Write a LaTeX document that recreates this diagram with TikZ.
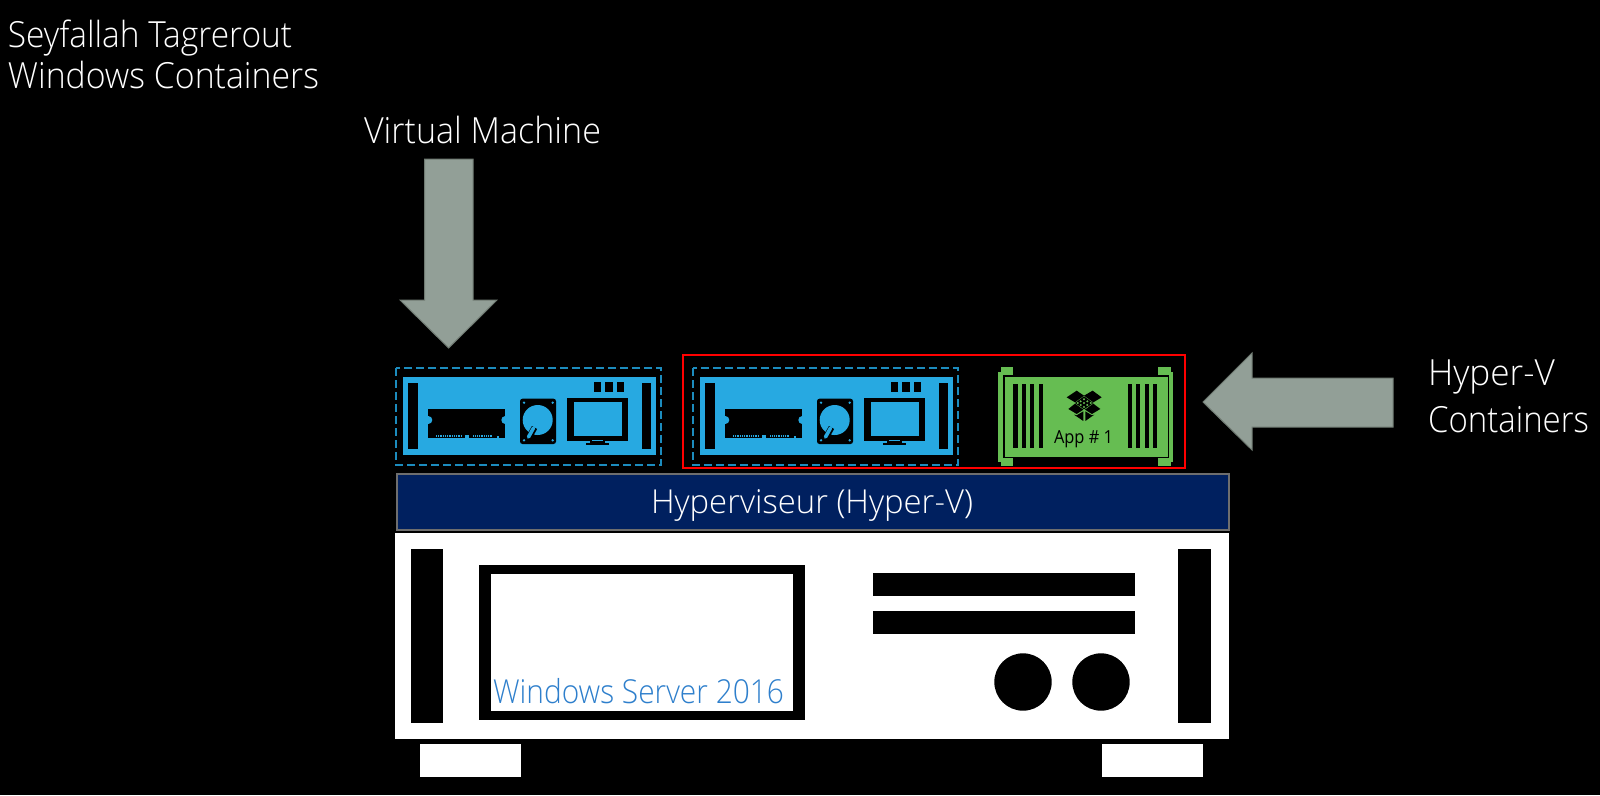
\documentclass[tikz,border=0pt]{standalone}
\usepackage{fontspec}
\usepackage{graphicx}
\setmainfont{Open Sans Light}
\newfontfamily\appfont{Open Sans}
\definecolor{vmblue}{HTML}{27A9E1}
\definecolor{dashblue}{HTML}{1C8CBE}
\definecolor{appgreen}{HTML}{66BD52}
\definecolor{arrowgray}{HTML}{929F97}
\definecolor{arrowedge}{HTML}{6F7A72}
\definecolor{hypernavy}{HTML}{00205F}
\definecolor{hyperedge}{HTML}{6E6E6E}
\definecolor{srvtext}{HTML}{2E7FCC}
\newcommand{\fitw}[2]{\resizebox{#1pt}{\height}{#2}}
\tikzset{
  x=1pt,y=-1pt,
  label text/.style={anchor=base west,inner sep=0pt,outer sep=0pt,text=white,font=\fontsize{36}{36}\selectfont},
  inner text/.style={anchor=base west,inner sep=0pt,outer sep=0pt,text=white,font=\fontsize{33}{33}\selectfont},
  ink/.style={fill=black,draw=none},
  white part/.style={fill=white,draw=none},
  blue part/.style={fill=vmblue,draw=none},
  green part/.style={fill=appgreen,draw=none},
  block arrow/.style={fill=arrowgray,draw=arrowedge,line width=1pt,line join=miter},
  vm dashed/.style={draw=dashblue,line width=1.4pt,dash pattern=on 8pt off 4pt},
  red frame/.style={draw=red,line width=2pt}
}
\begin{document}
\begin{tikzpicture}
\fill[black] (0,0) rectangle (1600,795);
\useasboundingbox (0,0) rectangle (1600,795);

% titles
\node[label text] (title1) at (8,47) {\fitw{284}{Seyfallah Tagrerout}};
\node[label text] (title2) at (8,88) {\fitw{311}{Windows Containers}};
\node[label text] (vmlabel) at (364,143) {\fitw{237}{Virtual Machine}};
\node[label text] (hv1) at (1428,385) {\fitw{127}{Hyper-V}};
\node[label text] (hv2) at (1428,432) {\fitw{161}{Containers}};

% block arrows
\path[block arrow] (424.5,159) -- (473,159) -- (473,300) -- (497,300) -- (448.6,348) -- (400,300) -- (424.5,300) -- cycle;
\path[block arrow] (1393,378) -- (1252,378) -- (1252,353) -- (1203,402) -- (1252,450) -- (1252,427) -- (1393,427) -- cycle;

% red frame
\draw[red frame] (683,355) rectangle (1185,468);

% virtual machine boxes
\foreach \ox in {0,297}{
\begin{scope}[shift={(\ox,0)}]
  \draw[vm dashed] (396,368) rectangle (661,465);
  \fill[blue part] (403,377) rectangle (656,455);
  \fill[ink] (408,383) rectangle (418,449);
  \fill[ink] (642,383) rectangle (651,449);
  \fill[ink] (593.7,381.7) rectangle (601.3,391.7);
  \fill[ink] (605.3,381.7) rectangle (613,391.7);
  \fill[ink] (616.7,381.7) rectangle (624.3,391.7);
  % memory module
  \fill[ink] (428.3,409.3) rectangle (505.3,438.3);
  \fill[blue part] (428.3,420) circle [radius=4pt];
  \fill[blue part] (505.3,420) circle [radius=4pt];
  \draw[vmblue,line width=2.6pt,dash pattern=on 1pt off .8pt] (436,436) -- (462.7,436);
  \fill[blue part] (465.3,434.7) rectangle (469.3,438.3);
  \draw[vmblue,line width=2.6pt,dash pattern=on 1pt off .8pt] (473.3,436) -- (491.7,436);
  \fill[blue part] (496.7,435.5) rectangle (499.3,438.3);
  % hard disk
  \fill[ink,rounded corners=2.5pt] (520,398.7) rectangle (556,444);
  \fill[blue part] (537.7,420) circle [radius=15pt];
  \foreach \hx/\hy in {524/402.7,552.7/402.7,524/440.3,552.7/440.3}{
    \fill[blue part] (\hx,\hy) circle [radius=1.3pt];
  }
  \draw[black,line width=6pt] (534.5,427.5) -- (527.5,440);
  \draw[vmblue,line width=3.6pt,line cap=round] (533.5,428) -- (528.5,437);
  % monitor
  \fill[ink] (567,397.7) rectangle (628,441);
  \fill[blue part] (573.7,402.3) rectangle (622,436);
  \fill[ink] (586,442.5) rectangle (608.7,444.5);
  \fill[ink] (590,441) rectangle (605,443);
  \fill[blue part] (592,440.3) rectangle (603,441.3);
\end{scope}
}

% application container
\fill[green part] (998,372) rectangle (1003,462);
\fill[green part] (1001,367) rectangle (1013,375);
\fill[green part] (1001,458) rectangle (1013,466);
\fill[green part] (1169,372) rectangle (1173,462);
\fill[green part] (1158,367) rectangle (1171,375);
\fill[green part] (1158,458) rectangle (1171,466);
\fill[green part] (1004.5,377) rectangle (1167.5,457);
\foreach \sa/\sb in {1013.3/1018,1022/1026,1030.3/1034.3,1038.7/1042.7,1127.7/1132.3,1136/1140.3,1144.7/1149,1152.7/1157.3}{
  \fill[ink] (\sa,384) rectangle (\sb,448);
}
% box icon
\begin{scope}[shift={(960,340)},x=.3333pt,y=-.3333pt]
  \fill[ink] (320,172) -- (350,152) -- (372,167) -- (345,187) -- cycle;
  \fill[ink] (372,167) -- (398,152) -- (425,172) -- (400,187) -- cycle;
  \fill[ink] (345,189) -- (372,169) -- (400,189) -- (372,208) -- cycle;
  \fill[ink] (325,207) -- (345,191) -- (370,209) -- (350,222) -- cycle;
  \fill[ink] (375,209) -- (400,191) -- (421,207) -- (396,222) -- cycle;
  \fill[ink] (342,224) -- (350,226) -- (370,214) -- (370,243) -- cycle;
  \fill[ink] (403,224) -- (396,226) -- (376,214) -- (376,243) -- cycle;
  \foreach \dx/\dy in {372/178,362/184,382/184,353/189,372/189,392/189,362/195,382/195,372/201}{
    \fill[green part] (\dx,\dy) circle [radius=1.1pt];
  }
\end{scope}
\node[inner text,text=black,font=\appfont\fontsize{18}{18}\selectfont] (applabel) at (1054,443) {\fitw{59}{App \# 1}};

% hypervisor
\node[draw=hyperedge,fill=hypernavy,line width=2pt,minimum width=832pt,minimum height=56pt,anchor=north west,inner sep=0pt] (hyper) at (396,473) {};
\node[inner text] (hypertext) at (651,513) {\fitw{322}{Hyperviseur (Hyper-V)}};

% physical server
\node[white part,minimum width=834pt,minimum height=206pt,anchor=north west,inner sep=0pt] (server) at (395,533) {};
\fill[ink] (411,549) rectangle (443,723);
\fill[ink] (1178,549) rectangle (1211,723);
\fill[ink] (479,565) rectangle (805,720);
\fill[white part] (491,574) rectangle (793,711);
\node[inner text,text=srvtext] (srvlabel) at (493,703) {\fitw{291}{Windows Server 2016}};
\fill[ink] (873,573) rectangle (1135,596);
\fill[ink] (873,611) rectangle (1135,634);
\fill[ink] (1023,682) circle [radius=28.7pt];
\fill[ink] (1101,682) circle [radius=28.7pt];
\fill[white part] (420,744) rectangle (521,777);
\fill[white part] (1102,744) rectangle (1203,777);
\end{tikzpicture}
\end{document}
